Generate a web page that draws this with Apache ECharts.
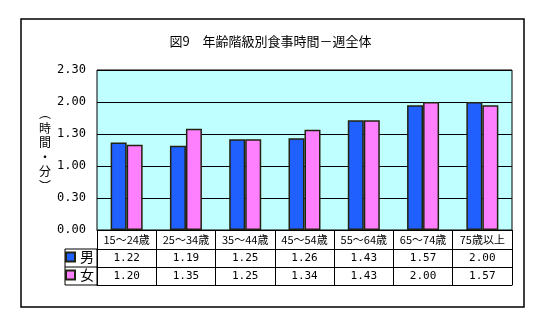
<!DOCTYPE html>
<html>
<head>
<meta charset="utf-8">
<script src="https://cdn.jsdelivr.net/npm/echarts@6/dist/echarts.min.js"></script>
<style>
  html, body { margin: 0; padding: 0; background: #fff; }
  #chart { width: 541px; height: 325px; }
</style>
</head>
<body>
<div id="chart"></div>
<script>
// Age groups (categories)
var categories = ['15～24歳', '25～34歳', '35～44歳', '45～54歳', '55～64歳', '65～74歳', '75歳以上'];
// Mealtime per day, written as hours.minutes
var maleTimes = ['1.22', '1.19', '1.25', '1.26', '1.43', '1.57', '2.00'];
var femaleTimes = ['1.20', '1.35', '1.25', '1.34', '1.43', '2.00', '1.57'];
// Y axis: 0:00 to 2:30 in steps of 0:30 (values in hours)
var yMin = 0, yMax = 2.5, yStep = 0.5;

// "h.mm" -> hours
function toHours(s) {
  var p = s.split('.');
  return Number(p[0]) + Number(p[1]) / 60;
}
// hours -> "h.mm"
function toHMM(h) {
  var hh = Math.floor(h + 1e-9);
  var mm = Math.round((h - hh) * 60);
  return hh + '.' + (mm < 10 ? '0' : '') + mm;
}

var jp = '"Noto Sans CJK JP", sans-serif';
var mono = '"DejaVu Sans Mono", monospace';

var chart = echarts.init(document.getElementById('chart'), null, { renderer: 'canvas' });

function tableAxis(offset, labels) {
  return {
    type: 'category',
    data: categories,
    position: 'bottom',
    offset: offset,
    axisLine: { show: true, lineStyle: { color: '#000', width: 1 } },
    axisTick: { show: false },
    axisLabel: {
      show: !!labels,
      interval: 0,
      margin: 4,
      color: '#000',
      fontFamily: mono,
      fontSize: 11,
      formatter: function (v, i) { return labels ? labels[i] : ''; }
    },
    splitLine: { show: false }
  };
}

chart.setOption({
  animation: false,
  backgroundColor: '#fff',
  title: {
    text: '図9　年齢階級別食事時間－週全体',
    left: 'center',
    top: 30,
    textStyle: { fontFamily: jp, fontSize: 13, fontWeight: 'normal', color: '#000' }
  },
  legend: {
    data: ['男', '女'],
    orient: 'vertical',
    left: 65,
    top: 250,
    padding: 0,
    itemWidth: 9,
    itemHeight: 9,
    itemGap: 4,
    icon: 'rect',
    textStyle: { fontFamily: jp, fontSize: 14, lineHeight: 14, color: '#000' }
  },
  grid: {
    left: 97, right: 29, top: 70, bottom: 95,
    show: true,
    backgroundColor: '#C0FFFF',
    borderColor: '#000',
    borderWidth: 1
  },
  xAxis: [
    {
      type: 'category',
      data: categories,
      axisLine: { show: true, lineStyle: { color: '#000', width: 1 } },
      axisTick: { show: true, length: 55, lineStyle: { color: '#000', width: 1 } },
      axisLabel: { interval: 0, margin: 4, color: '#000', fontFamily: jp, fontSize: 11 },
      splitLine: { show: false }
    },
    tableAxis(19, maleTimes),
    tableAxis(37, femaleTimes),
    tableAxis(55, null)
  ],
  yAxis: {
    type: 'value',
    min: yMin, max: yMax, interval: yStep,
    name: '︵\n時\n間\n・\n分\n︶',
    nameLocation: 'middle',
    nameRotate: 0,
    nameGap: 52,
    nameTextStyle: { fontFamily: jp, fontSize: 12, lineHeight: 14.5, color: '#000', align: 'center' },
    axisLine: { show: false },
    axisTick: { show: false },
    axisLabel: {
      margin: 11,
      color: '#000',
      fontFamily: mono,
      fontSize: 12,
      formatter: function (v) { return toHMM(v); }
    },
    splitLine: { show: true, lineStyle: { color: '#000', width: 1 } }
  },
  series: [
    {
      name: '男',
      type: 'bar',
      data: maleTimes.map(toHours),
      barWidth: 16,
      barGap: '0%',
      itemStyle: { color: '#2060FF', borderColor: '#222211', borderWidth: 1.5 }
    },
    {
      name: '女',
      type: 'bar',
      data: femaleTimes.map(toHours),
      barWidth: 16,
      barGap: '0%',
      itemStyle: { color: '#FF80FF', borderColor: '#222211', borderWidth: 1.5 }
    }
  ],
  graphic: [
    // outer frame
    { type: 'rect', shape: { x: 21, y: 19, width: 503, height: 288 },
      style: { fill: 'none', stroke: '#000', lineWidth: 1.5 }, silent: true },
    // legend cells at the left of the table
    { type: 'rect', shape: { x: 65, y: 249, width: 32, height: 36 },
      style: { fill: 'none', stroke: '#000', lineWidth: 1 }, silent: true },
    { type: 'line', shape: { x1: 65, y1: 267, x2: 97, y2: 267 },
      style: { stroke: '#000', lineWidth: 1 }, silent: true }
  ]
});
</script>
</body>
</html>
